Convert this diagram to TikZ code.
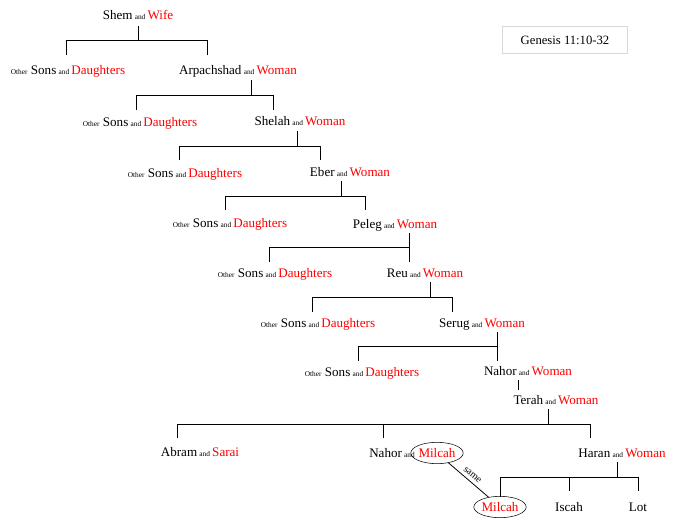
\documentclass[tikz,border=0pt]{standalone}
\usepackage{fontspec}
\usetikzlibrary{shapes.geometric}
\setmainfont{Liberation Serif}
\newcommand{\nm}[1]{{\fontsize{9.8}{10}\selectfont #1}}
\newcommand{\rd}[1]{{\fontsize{9.8}{10}\selectfont\color{red}#1}}
\newcommand{\sm}[1]{{\fontsize{5.5}{6}\selectfont #1}}
\newcommand{\cpl}[2]{\nm{#1}\,\sm{and}\,\rd{#2}}
\newcommand{\oth}{\sm{Other}\ \nm{Sons}\,\sm{and}\,\rd{Daughters}}
\begin{document}
\begin{tikzpicture}[x=0.75pt,y=-0.75pt,lbl/.style={inner sep=1pt,anchor=base},ln/.style={line width=0.6pt},
  ov/.style={draw,ellipse,inner sep=0pt,minimum width=36,minimum height=16}]
\useasboundingbox (0,0) rectangle (681,524);
\node[lbl] (shem) at (138,20) {\cpl{Shem}{Wife}};
\node[lbl] (o1) at (68,75) {\oth};
\node[lbl] (arp) at (238,75) {\cpl{Arpachshad}{Woman}};
\node[lbl] (o2) at (140,127) {\oth};
\node[lbl] (she) at (300,126) {\cpl{Shelah}{Woman}};
\node[lbl] (o3) at (185,177) {\oth};
\node[lbl] (ebe) at (350,176) {\cpl{Eber}{Woman}};
\node[lbl] (o4) at (230,227) {\oth};
\node[lbl] (pel) at (395,228) {\cpl{Peleg}{Woman}};
\node[lbl] (o5) at (275,277) {\oth};
\node[lbl] (reu) at (425,277) {\cpl{Reu}{Woman}};
\node[lbl] (o6) at (318,327) {\oth};
\node[lbl] (ser) at (482,327) {\cpl{Serug}{Woman}};
\node[lbl] (o7) at (362,376) {\oth};
\node[lbl] (nah) at (528,375) {\cpl{Nahor}{Woman}};
\node[lbl] (ter) at (556,404) {\cpl{Terah}{Woman}};
\node[lbl] (abr) at (200,456) {\cpl{Abram}{Sarai}};
\node[lbl] (nah2) at (392,457) {\nm{Nahor}\,\sm{and}};
\node[ov] (mil1) at (437,453) {\rd{Milcah}};
\node[lbl] (har) at (622,457) {\cpl{Haran}{Woman}};
\node[ov] (mil2) at (500,507) {\rd{Milcah}};
\node[lbl] (isc) at (569,511) {\nm{Iscah}};
\node[lbl] (lot) at (638,511) {\nm{Lot}};
\node[draw=black!15,fill=white,minimum width=94,minimum height=20,inner sep=2pt] (gen) at (565,40) {\fontsize{9.5}{10}\selectfont Genesis 11:10-32};
% brackets
\draw[ln] (138,26) -- (138,40) (66,55) -- (66,40) -- (207,40) -- (207,55);
\draw[ln] (251,80) -- (251,95) (136,110) -- (136,95) -- (273,95) -- (273,110);
\draw[ln] (297,131) -- (297,146) (179,160) -- (179,146) -- (320,146) -- (320,160);
\draw[ln] (341,181) -- (341,196) (225,210) -- (225,196) -- (365,196) -- (365,210);
\draw[ln] (409,233) -- (409,247) (269,262) -- (269,247) -- (409,247) -- (409,262);
\draw[ln] (430,282) -- (430,297) (312,312) -- (312,297) -- (452,297) -- (452,312);
\draw[ln] (497,332) -- (497,346) (358,361) -- (358,346) -- (497,346) -- (497,361);
\draw[ln] (518,380) -- (518,390);
\draw[ln] (548,409) -- (548,424) (177,438) -- (177,424) -- (590,424) -- (590,438) (383,424) -- (383,438);
\draw[ln] (617,462) -- (617,477) (500,497) -- (500,477) -- (638,477) -- (638,491) (569,477) -- (569,491);
\draw[ln] (mil1) -- node[sloped,above,inner sep=2.5pt,font=\fontsize{7.5}{8}\selectfont] {same} (mil2);
\end{tikzpicture}
\end{document}
